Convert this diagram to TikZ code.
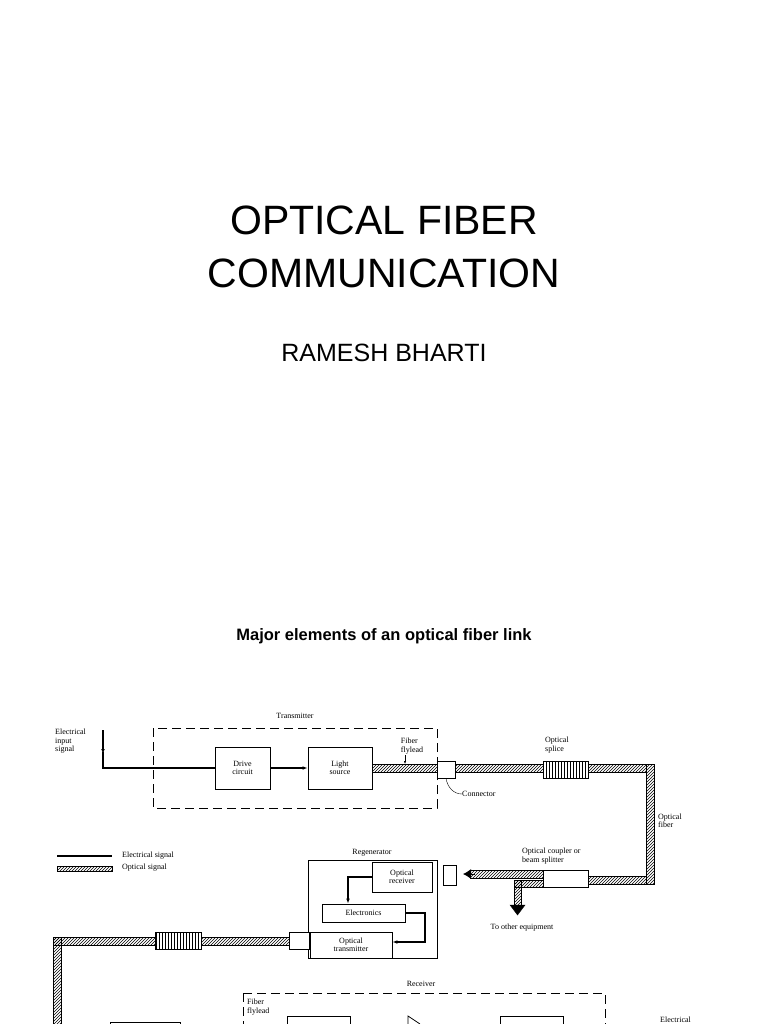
\documentclass[tikz,border=0pt]{standalone}
\usepackage{fontspec}
\setmainfont{Liberation Serif}
\setsansfont{Liberation Sans}
\usetikzlibrary{patterns,arrows.meta}
\begin{document}
\begin{tikzpicture}[x=1pt,y=-1pt,
  blk/.style={draw,thick,fill=white,inner sep=0pt,align=center,font=\fontsize{8}{8}\selectfont},
  lbl/.style={font=\fontsize{8}{8.5}\selectfont,align=left,inner sep=0pt},
  dbox/.style={draw,thick,dash pattern=on 9pt off 5pt},
  elec/.style={line width=2pt},
  earr/.style={line width=1.2pt,-{Latex[length=5pt]}},
  fib/.style={draw,line width=0.8pt,pattern=north east lines}]
\useasboundingbox (0,0) rectangle (768,1024);
\clip (0,0) rectangle (768,1024);
% titles
\node[font=\sffamily\fontsize{41}{41}\selectfont] (t1) at (384,220) {OPTICAL FIBER};
\node[font=\sffamily\fontsize{41}{41}\selectfont] (t2) at (384,273) {COMMUNICATION};
\node[font=\sffamily\fontsize{25}{25}\selectfont] (t3) at (384,353) {RAMESH BHARTI};
\node[font=\sffamily\bfseries\fontsize{16.5}{16.5}\selectfont] (t4) at (384,636) {Major elements of an optical fiber link};
% transmitter
\draw[dbox] (153,728) rectangle (437,808);
\node[lbl] (tl) at (295,716) {Transmitter};
\node[lbl,anchor=north west] (ein) at (55,729) {Electrical\\input\\signal};
\coordinate (ein1) at (103,730);
\coordinate (ein2) at (103,768);
\draw[line width=2pt,-{Latex[length=5pt]}] (ein1) -- (103,754);
\node[blk,minimum width=55pt,minimum height=42pt] (drv) at (242.5,768) {Drive\\circuit};
\node[blk,minimum width=64pt,minimum height=42pt] (ls) at (340,768) {Light\\source};
\draw[elec] (103,752) -- (ein2) -- (drv.west);
\draw[earr] (drv.east) -- (ls.west);
% fibers top
\path[fib] (372,764) rectangle (437,772);
\node[blk,minimum width=18pt,minimum height=17pt] (con) at (446,769.5) {};
\path[fib] (455,764) rectangle (543,772);
\node[blk,minimum width=45pt,minimum height=17pt,pattern=vertical lines] (spl) at (565.5,769.5) {};
\path[fib] (588,764) rectangle (646,772);
\path[fib] (646,764) rectangle (654,884);
\path[fib] (588,876) rectangle (646,884);
\node[blk,minimum width=45pt,minimum height=17pt] (cpl) at (565.5,878.5) {};
\path[fib] (470,870) rectangle (543,878);
\draw[-{Latex[length=8pt,width=10pt]},line width=1pt] (475,874) -- (463,874);
% branch
\path[fib] (514,880) rectangle (543,887);
\path[fib] (514,880) rectangle (521,905);
\draw[fill=black] (510,905) -- (525,905) -- (517.5,915) -- cycle;
\node[lbl] (toe) at (522,928) {To other equipment};
% labels top
\node[lbl] (ffl) at (412,746) {Fiber\\flylead};
\draw[-{Latex[length=3pt]}] (405,755) -- (405,764);
\node[lbl,anchor=west] (conl) at (462,794) {Connector};
\draw (con.south) to[out=-80,in=180] (conl.west);
\node[lbl,anchor=west] (osp) at (545,745) {Optical\\splice};
\node[lbl,anchor=west] (ofb) at (658,821) {Optical\\fiber};
\node[lbl,anchor=west] (ocb) at (522,856) {Optical coupler or\\beam splitter};
% legend
\draw[elec] (57,856) -- (112,856);
\path[fib] (57,866) rectangle (112,871);
\node[lbl,anchor=west] (l1) at (122,856) {Electrical signal};
\node[lbl,anchor=west] (l2) at (122,868) {Optical signal};
% regenerator
\draw[thick] (308,860) rectangle (437,958);
\node[lbl] (rg) at (372,853) {Regenerator};
\node[blk,minimum width=60pt,minimum height=30pt] (orx) at (402,877) {Optical\\receiver};
\node[blk,minimum width=13pt,minimum height=20pt] (rxp) at (450,875) {};
\node[blk,minimum width=83pt,minimum height=18pt] (elx) at (363.5,913) {Electronics};
\node[blk,minimum width=82pt,minimum height=26pt] (otx) at (351,945) {Optical\\transmitter};
\draw[earr] (orx.west) -- (348,877) -- (elx.north -| 348,0);
\draw[earr] (elx.east) -- (425,913) -- (425,942) -- (otx.east |- 0,942);
\node[blk,minimum width=20pt,minimum height=17pt] (txp) at (299,941) {};
\path[fib] (201,937) rectangle (289,945);
\node[blk,minimum width=46pt,minimum height=17pt,pattern=vertical lines] (spl2) at (178,941) {};
\path[fib] (53,937) rectangle (155,945);
\path[fib] (53,937) rectangle (61,1030);
% receiver
\draw[dbox] (243,993) -- (605,993) -- (605,1030);
\draw[dbox] (243,993) -- (243,1030);
\node[lbl] (rc) at (421,984) {Receiver};
\node[lbl,anchor=north west] (ffl2) at (247,999) {Fiber\\flylead};
\draw[thick] (287,1030) -- (287,1016) -- (350,1016) -- (350,1030);
\draw[thick] (408,1030) -- (408,1016) -- (420,1024);
\draw[thick] (500,1030) -- (500,1016) -- (563,1016) -- (563,1030);
\draw[thick] (110,1030) -- (110,1022) -- (180,1022) -- (180,1030);
\node[lbl,anchor=west] (elo) at (660,1020) {Electrical};
\end{tikzpicture}
\end{document}
